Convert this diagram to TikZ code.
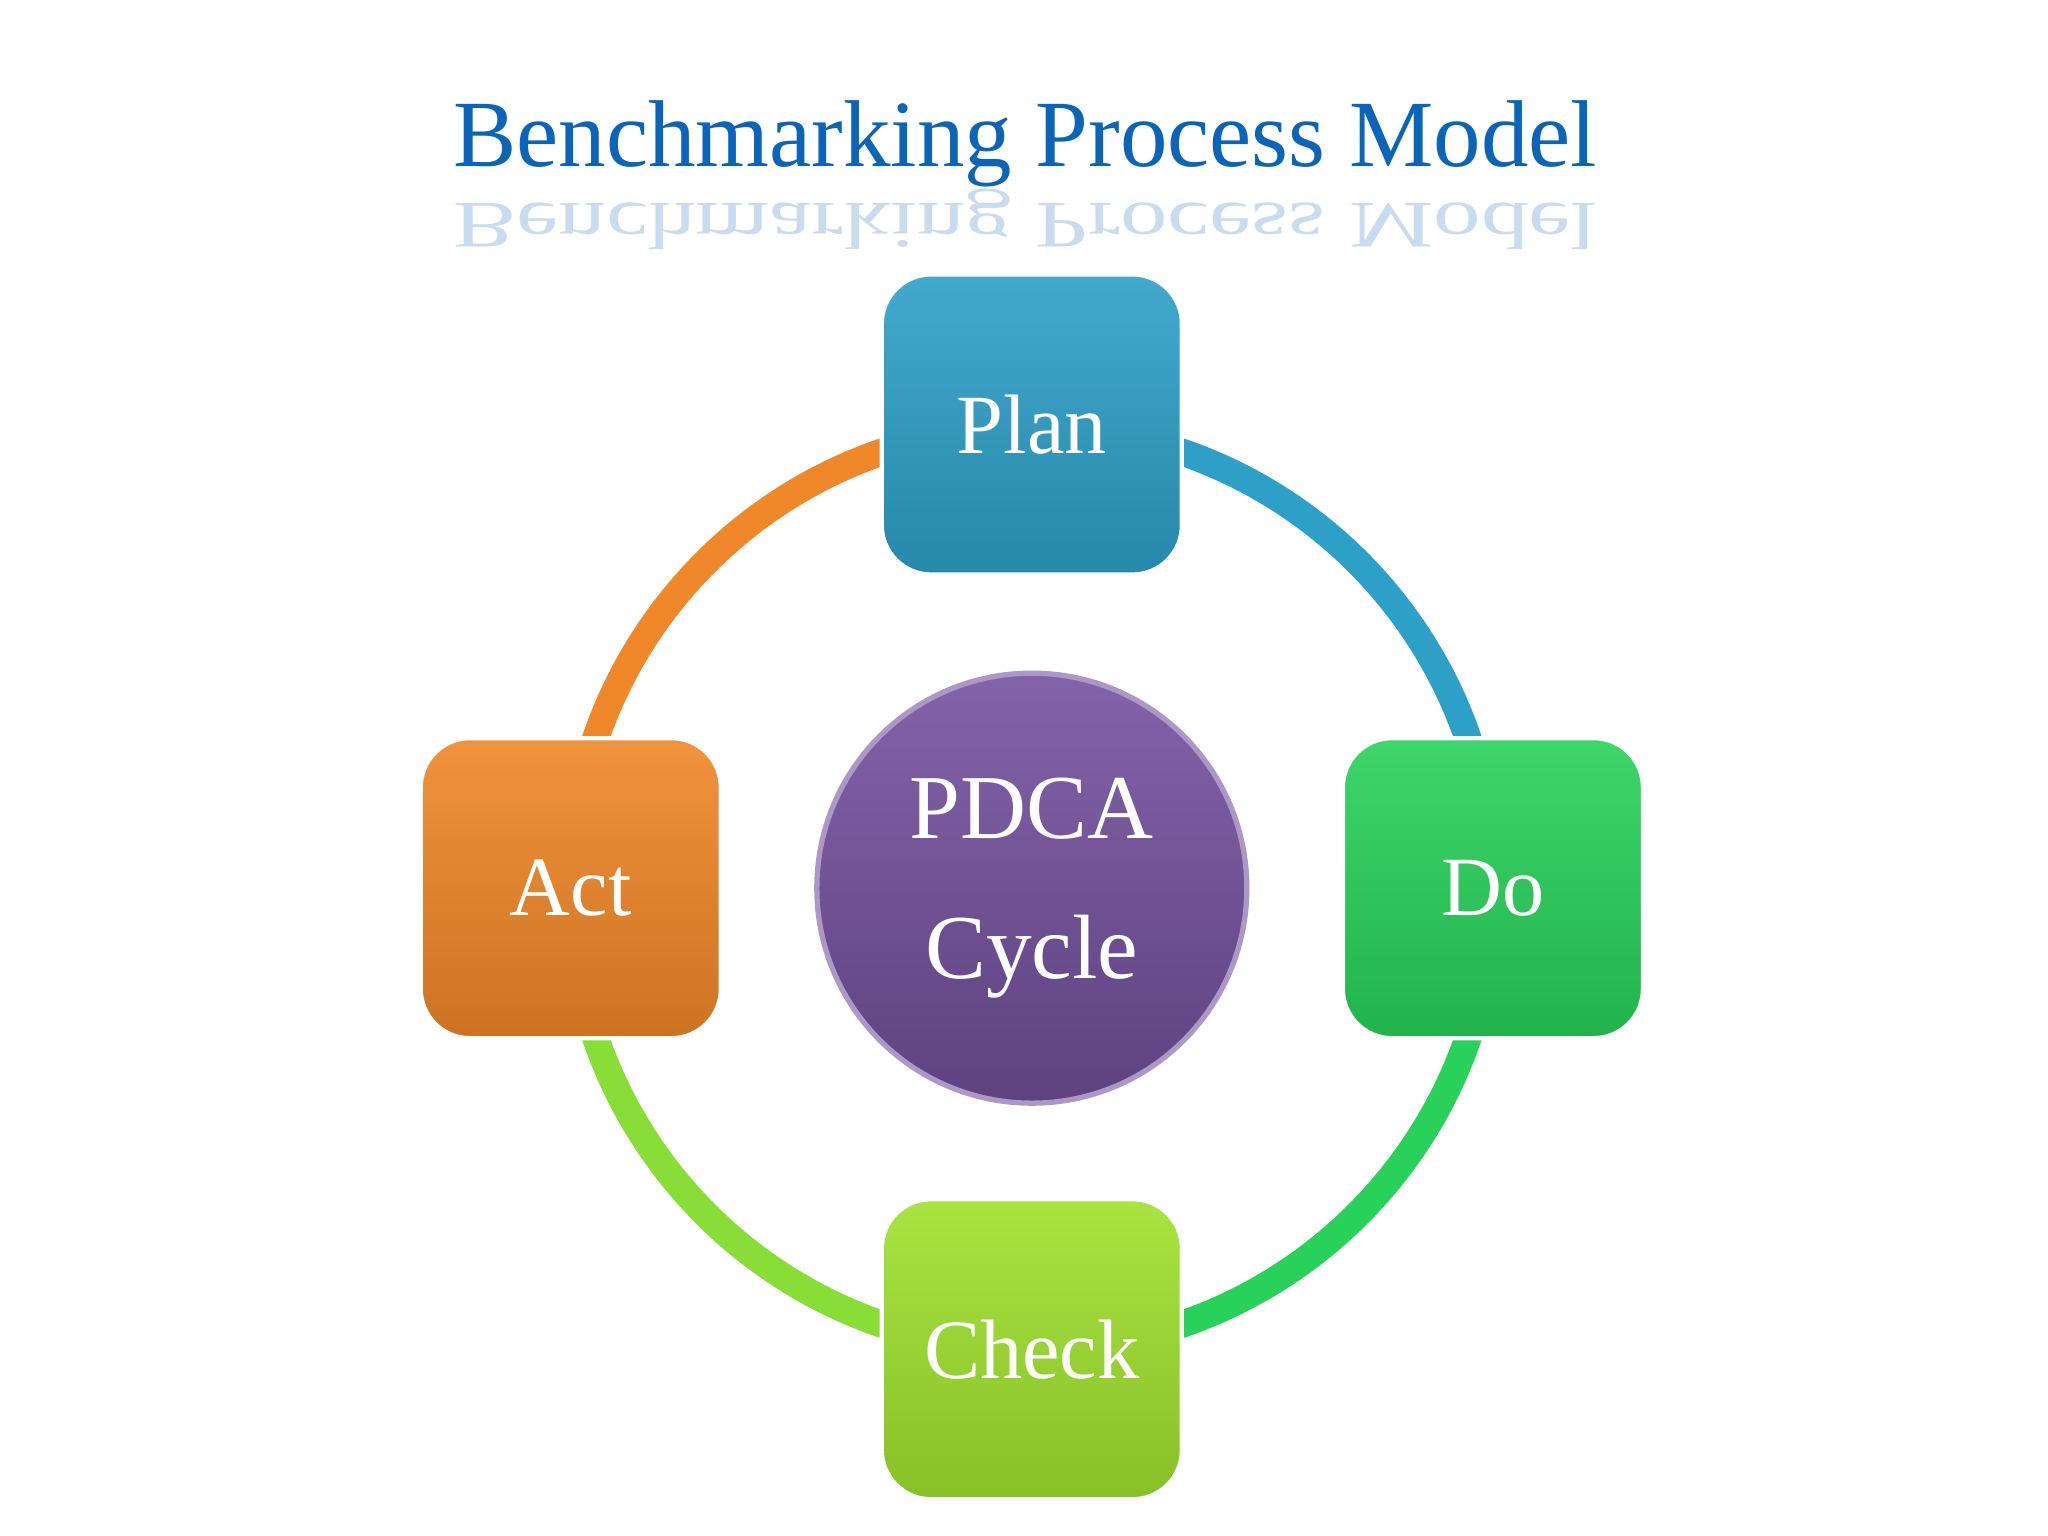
\documentclass[tikz,border=0pt]{standalone}
\usepackage{fontspec}
\setmainfont{Liberation Serif}
\begin{document}
\begin{tikzpicture}[x=0.0130612cm,y=-0.0130612cm,
  box/.style={rounded corners=14pt,minimum width=3.0cm,minimum height=3.0cm,draw=white,line width=1.2pt,text=white,font=\fontsize{24}{30}\selectfont},
  ring/.style={line width=0.27cm}]
\useasboundingbox (0,0) rectangle (1568,1176);
\fill[white] (0,0) rectangle (1568,1176);
\definecolor{ctitle}{RGB}{10,100,185}
\node[text=ctitle, font=\fontsize{27}{32}\selectfont] (title) at (785,110) {Benchmarking Process Model};
\node[text=ctitle, opacity=0.22, yscale=-0.7, font=\fontsize{27}{32}\selectfont] (refl) at (785,168) {Benchmarking Process Model};
\definecolor{cplan}{RGB}{45,160,200}
\definecolor{cdo}{RGB}{40,210,90}
\definecolor{ccheck}{RGB}{160,225,45}
\definecolor{cact}{RGB}{240,135,40}
\definecolor{cpdca}{RGB}{117,82,160}
\coordinate (c) at (790,680);
\draw[ring,cplan] ([shift={(-90:353)}]c) arc[start angle=-90,end angle=0,radius=353];
\draw[ring,cdo] ([shift={(0:353)}]c) arc[start angle=0,end angle=90,radius=353];
\draw[ring,ccheck!80!cdo] ([shift={(90:353)}]c) arc[start angle=90,end angle=180,radius=353];
\draw[ring,cact] ([shift={(180:353)}]c) arc[start angle=180,end angle=270,radius=353];
\node[circle,minimum size=4.3cm,inner sep=0pt,draw=cpdca!60!white,line width=1.5pt,top color=cpdca!90!white,bottom color=cpdca!80!black,text=white,align=center,font=\fontsize{26}{40}\selectfont] (pdca) at (c) {PDCA\\Cycle};
\node[box,top color=cplan!90!white,bottom color=cplan!85!black] (plan) at (790,325) {Plan};
\node[box,top color=cdo!90!white,bottom color=cdo!85!black] (do) at (1143,680) {Do};
\node[box,top color=ccheck!90!white,bottom color=ccheck!85!black] (check) at (790,1033) {Check};
\node[box,top color=cact!90!white,bottom color=cact!85!black] (act) at (437,680) {Act};
\end{tikzpicture}
\end{document}
